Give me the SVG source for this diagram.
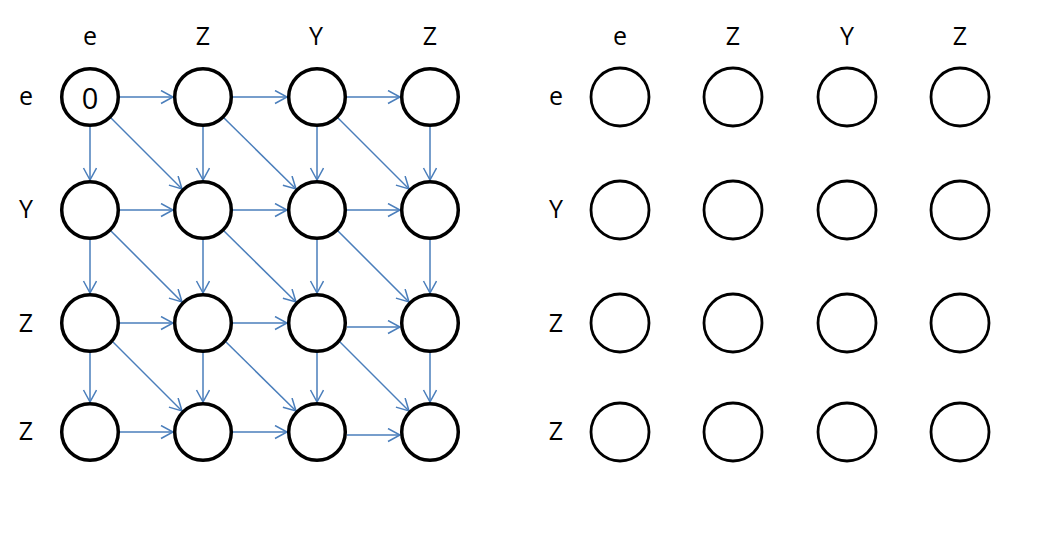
<svg xmlns="http://www.w3.org/2000/svg" width="1056" height="535" viewBox="0 0 1056 535">
<style>
.lbl{font-family:"Open Sans","Liberation Sans",sans-serif;font-size:25px;fill:#000;text-anchor:middle}
.zero{font-size:29px}
.nl{fill:#fff;stroke:#000;stroke-width:3.5}
.nr{fill:#fff;stroke:#000;stroke-width:2.8}
.e{fill:none;stroke:#4A7EBB;stroke-width:1.5;marker-end:url(#ah)}
</style>
<defs>
<marker id="ah" markerUnits="userSpaceOnUse" markerWidth="16" markerHeight="16" refX="13" refY="7" orient="auto">
<path d="M1,0.5 L13,7 L1,13.5" fill="none" stroke="#4A7EBB" stroke-width="1.5"/>
</marker>
</defs>
<rect width="1056" height="535" fill="#fff"/>
<g id="labels">
<text class="lbl" x="90" y="45">e</text>
<text class="lbl" x="203" y="45">Z</text>
<text class="lbl" x="316" y="45">Y</text>
<text class="lbl" x="430" y="45">Z</text>
<text class="lbl" x="26" y="105">e</text>
<text class="lbl" x="26" y="218">Y</text>
<text class="lbl" x="26" y="332">Z</text>
<text class="lbl" x="26" y="440">Z</text>
<text class="lbl" x="620" y="45">e</text>
<text class="lbl" x="733" y="45">Z</text>
<text class="lbl" x="847" y="45">Y</text>
<text class="lbl" x="960" y="45">Z</text>
<text class="lbl" x="556" y="105">e</text>
<text class="lbl" x="556" y="218">Y</text>
<text class="lbl" x="556" y="332">Z</text>
<text class="lbl" x="556" y="440">Z</text>
</g>
<g id="connectors">
<line class="e" x1="120" y1="97" x2="173" y2="97"/>
<line class="e" x1="233" y1="97" x2="287" y2="97"/>
<line class="e" x1="347" y1="97" x2="400" y2="97"/>
<line class="e" x1="120" y1="210" x2="173" y2="210"/>
<line class="e" x1="233" y1="210" x2="287" y2="210"/>
<line class="e" x1="347" y1="210" x2="400" y2="210"/>
<line class="e" x1="120" y1="323" x2="173" y2="323"/>
<line class="e" x1="233" y1="323" x2="287" y2="323"/>
<line class="e" x1="347" y1="327" x2="400" y2="327"/>
<line class="e" x1="120" y1="432" x2="173" y2="432"/>
<line class="e" x1="233" y1="432" x2="287" y2="432"/>
<line class="e" x1="347" y1="435" x2="400" y2="435"/>
<line class="e" x1="90" y1="127" x2="90" y2="180"/>
<line class="e" x1="90" y1="240" x2="90" y2="293"/>
<line class="e" x1="90" y1="350" x2="90" y2="402"/>
<line class="e" x1="203" y1="127" x2="203" y2="180"/>
<line class="e" x1="203" y1="240" x2="203" y2="293"/>
<line class="e" x1="203" y1="350" x2="203" y2="402"/>
<line class="e" x1="317" y1="127" x2="317" y2="180"/>
<line class="e" x1="317" y1="240" x2="317" y2="293"/>
<line class="e" x1="317" y1="350" x2="317" y2="402"/>
<line class="e" x1="430" y1="127" x2="430" y2="180"/>
<line class="e" x1="430" y1="240" x2="430" y2="293"/>
<line class="e" x1="430" y1="350" x2="430" y2="402"/>
<line class="e" x1="111" y1="118" x2="182" y2="189"/>
<line class="e" x1="224" y1="118" x2="296" y2="189"/>
<line class="e" x1="338" y1="118" x2="409" y2="189"/>
<line class="e" x1="111" y1="231" x2="182" y2="302"/>
<line class="e" x1="224" y1="231" x2="296" y2="302"/>
<line class="e" x1="338" y1="231" x2="409" y2="302"/>
<line class="e" x1="111" y1="340" x2="182" y2="411"/>
<line class="e" x1="224" y1="340" x2="296" y2="411"/>
<line class="e" x1="338" y1="340" x2="409" y2="411"/>
</g>
<g id="L00"><circle class="nl" cx="90" cy="97" r="28.3"/><text class="lbl zero" x="90" y="109">0</text></g>
<g id="L01"><circle class="nl" cx="203" cy="97" r="28.3"/></g>
<g id="L02"><circle class="nl" cx="317" cy="97" r="28.3"/></g>
<g id="L03"><circle class="nl" cx="430" cy="97" r="28.3"/></g>
<g id="L10"><circle class="nl" cx="90" cy="210" r="28.3"/></g>
<g id="L11"><circle class="nl" cx="203" cy="210" r="28.3"/></g>
<g id="L12"><circle class="nl" cx="317" cy="210" r="28.3"/></g>
<g id="L13"><circle class="nl" cx="430" cy="210" r="28.3"/></g>
<g id="L20"><circle class="nl" cx="90" cy="323" r="28.3"/></g>
<g id="L21"><circle class="nl" cx="203" cy="323" r="28.3"/></g>
<g id="L22"><circle class="nl" cx="317" cy="323" r="28.3"/></g>
<g id="L23"><circle class="nl" cx="430" cy="323" r="28.3"/></g>
<g id="L30"><circle class="nl" cx="90" cy="432" r="28.3"/></g>
<g id="L31"><circle class="nl" cx="203" cy="432" r="28.3"/></g>
<g id="L32"><circle class="nl" cx="317" cy="432" r="28.3"/></g>
<g id="L33"><circle class="nl" cx="430" cy="432" r="28.3"/></g>
<g id="R00"><circle class="nr" cx="620" cy="97" r="29"/></g>
<g id="R01"><circle class="nr" cx="733" cy="97" r="29"/></g>
<g id="R02"><circle class="nr" cx="847" cy="97" r="29"/></g>
<g id="R03"><circle class="nr" cx="960" cy="97" r="29"/></g>
<g id="R10"><circle class="nr" cx="620" cy="210" r="29"/></g>
<g id="R11"><circle class="nr" cx="733" cy="210" r="29"/></g>
<g id="R12"><circle class="nr" cx="847" cy="210" r="29"/></g>
<g id="R13"><circle class="nr" cx="960" cy="210" r="29"/></g>
<g id="R20"><circle class="nr" cx="620" cy="323" r="29"/></g>
<g id="R21"><circle class="nr" cx="733" cy="323" r="29"/></g>
<g id="R22"><circle class="nr" cx="847" cy="323" r="29"/></g>
<g id="R23"><circle class="nr" cx="960" cy="323" r="29"/></g>
<g id="R30"><circle class="nr" cx="620" cy="432" r="29"/></g>
<g id="R31"><circle class="nr" cx="733" cy="432" r="29"/></g>
<g id="R32"><circle class="nr" cx="847" cy="432" r="29"/></g>
<g id="R33"><circle class="nr" cx="960" cy="432" r="29"/></g>
</svg>
